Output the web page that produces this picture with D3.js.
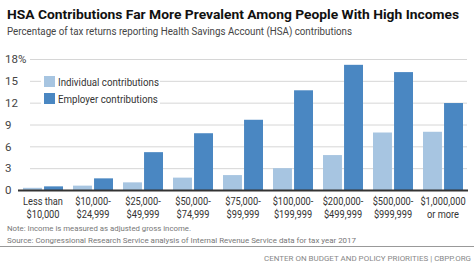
<!DOCTYPE html>
<html>
<head>
<meta charset="utf-8">
<script src="https://cdn.jsdelivr.net/npm/d3@7"></script>
<style>
  body { margin: 0; background: #fff; }
  svg { display: block; font-family: "Roboto", "Liberation Sans", sans-serif; }
</style>
</head>
<body>
<div id="chart"></div>
<script>
// income brackets (two-line labels)
const categories = [
  ["Less than", "$10,000"],
  ["$10,000-", "$24,999"],
  ["$25,000-", "$49,999"],
  ["$50,000-", "$74,999"],
  ["$75,000-", "$99,999"],
  ["$100,000-", "$199,999"],
  ["$200,000-", "$499,999"],
  ["$500,000-", "$999,999"],
  ["$1,000,000", "or more"]
];
const individual = [0.3, 0.6, 1.05, 1.7, 2.05, 3.0, 4.8, 7.9, 8.0];
const employer = [0.5, 1.6, 5.2, 7.8, 9.65, 13.7, 17.2, 16.2, 11.95];
const yTicks = [0, 3, 6, 9, 12, 15, 18];
const seriesNames = ["Individual contributions", "Employer contributions"];
const colors = ["#a7c5e1", "#4a87c2"];

const width = 474, height = 271;
const svg = d3.select("#chart").append("svg")
  .attr("width", width).attr("height", height);

// the original font is narrower than Roboto, so squeeze text a bit
function squeeze(sel, k) {
  sel.each(function () {
    const w = this.getComputedTextLength();
    d3.select(this).attr("textLength", w * k).attr("lengthAdjust", "spacingAndGlyphs");
  });
}
function fitTo(sel, w) {
  sel.attr("textLength", w).attr("lengthAdjust", "spacingAndGlyphs");
}

// title + subtitle
svg.append("text").attr("x", 7).attr("y", 19)
  .attr("font-size", 13.4).attr("font-weight", "bold").attr("fill", "#111")
  .text("HSA Contributions Far More Prevalent Among People With High Incomes")
  .call(fitTo, 452);
svg.append("text").attr("x", 7).attr("y", 35)
  .attr("font-size", 11.3).attr("fill", "#444")
  .text("Percentage of tax returns reporting Health Savings Account (HSA) contributions")
  .call(fitTo, 345);

const x = d3.scaleBand().domain(d3.range(categories.length)).range([18, 468]).paddingInner(0).paddingOuter(0);
const x1 = d3.scaleBand().domain([0, 1]).range([5, 45]).paddingInner(0.1);
const y = d3.scaleLinear().domain([0, 18]).range([190, 59]);

// gridlines + y labels
const yAxis = svg.append("g").attr("transform", "translate(30,0)")
  .call(d3.axisRight(y).tickValues(yTicks).tickSize(437).tickFormat(d => d === 18 ? "18%" : d));
yAxis.select(".domain").remove();
yAxis.selectAll(".tick line").attr("stroke", "#d6d6d6").attr("stroke-width", 1);
yAxis.selectAll(".tick text").attr("x", -25).attr("text-anchor", "start")
  .attr("font-size", 11.5).attr("fill", "#444").attr("font-family", "Roboto, sans-serif");
yAxis.selectAll(".tick").filter(d => d === 0).select("line").attr("x1", -6);

// bars
const groups = svg.append("g").selectAll("g").data(categories.map((c, i) => i))
  .join("g").attr("transform", i => `translate(${x(i)},0)`);
groups.selectAll("rect").data(i => [individual[i], employer[i]])
  .join("rect")
  .attr("x", (d, j) => x1(j))
  .attr("width", x1.bandwidth())
  .attr("y", d => y(d))
  .attr("height", d => y(0) - y(d))
  .attr("fill", (d, j) => colors[j]);

// baseline
svg.append("line").attr("x1", 18).attr("x2", 468).attr("y1", y(0) + 0.5).attr("y2", y(0) + 0.5)
  .attr("stroke", "#333").attr("stroke-width", 2);

// x labels
const xl = svg.append("g").selectAll("text").data(categories).join("text")
  .attr("text-anchor", "middle").attr("font-size", 11).attr("fill", "#333");
xl.append("tspan").attr("x", (d, i) => x(i) + x.bandwidth() / 2).attr("y", 205).text(d => d[0]);
xl.append("tspan").attr("x", (d, i) => x(i) + x.bandwidth() / 2).attr("y", 218).text(d => d[1]);
xl.selectAll("tspan").call(squeeze, 0.84);

// legend
svg.append("rect").attr("x", 41).attr("y", 72).attr("width", 119).attr("height", 36).attr("fill", "#fff");
const lg = svg.append("g").selectAll("g").data(seriesNames).join("g")
  .attr("transform", (d, i) => `translate(44,${76 + i * 17})`);
lg.append("rect").attr("width", 11).attr("height", 11).attr("fill", (d, i) => colors[i]);
lg.append("text").attr("x", 14).attr("y", 10).attr("font-size", 11.3).attr("fill", "#333").text(d => d)
  .call(squeeze, 0.86);

// notes
svg.append("text").attr("x", 7).attr("y", 231).attr("font-size", 7.8).attr("fill", "#777")
  .text("Note: Income is measured as adjusted gross income.").call(fitTo, 184);
svg.append("text").attr("x", 7).attr("y", 243).attr("font-size", 7.8).attr("fill", "#777")
  .text("Source: Congressional Research Service analysis of Internal Revenue Service data for tax year 2017")
  .call(fitTo, 349);
svg.append("line").attr("x1", 0).attr("x2", width).attr("y1", 246.5).attr("y2", 246.5)
  .attr("stroke", "#999").attr("stroke-width", 1);
svg.append("text").attr("x", 264).attr("y", 261)
  .attr("font-size", 7.8).attr("fill", "#888")
  .text("CENTER ON BUDGET AND POLICY PRIORITIES | CBPP.ORG").call(fitTo, 207);
</script>
</body>
</html>
